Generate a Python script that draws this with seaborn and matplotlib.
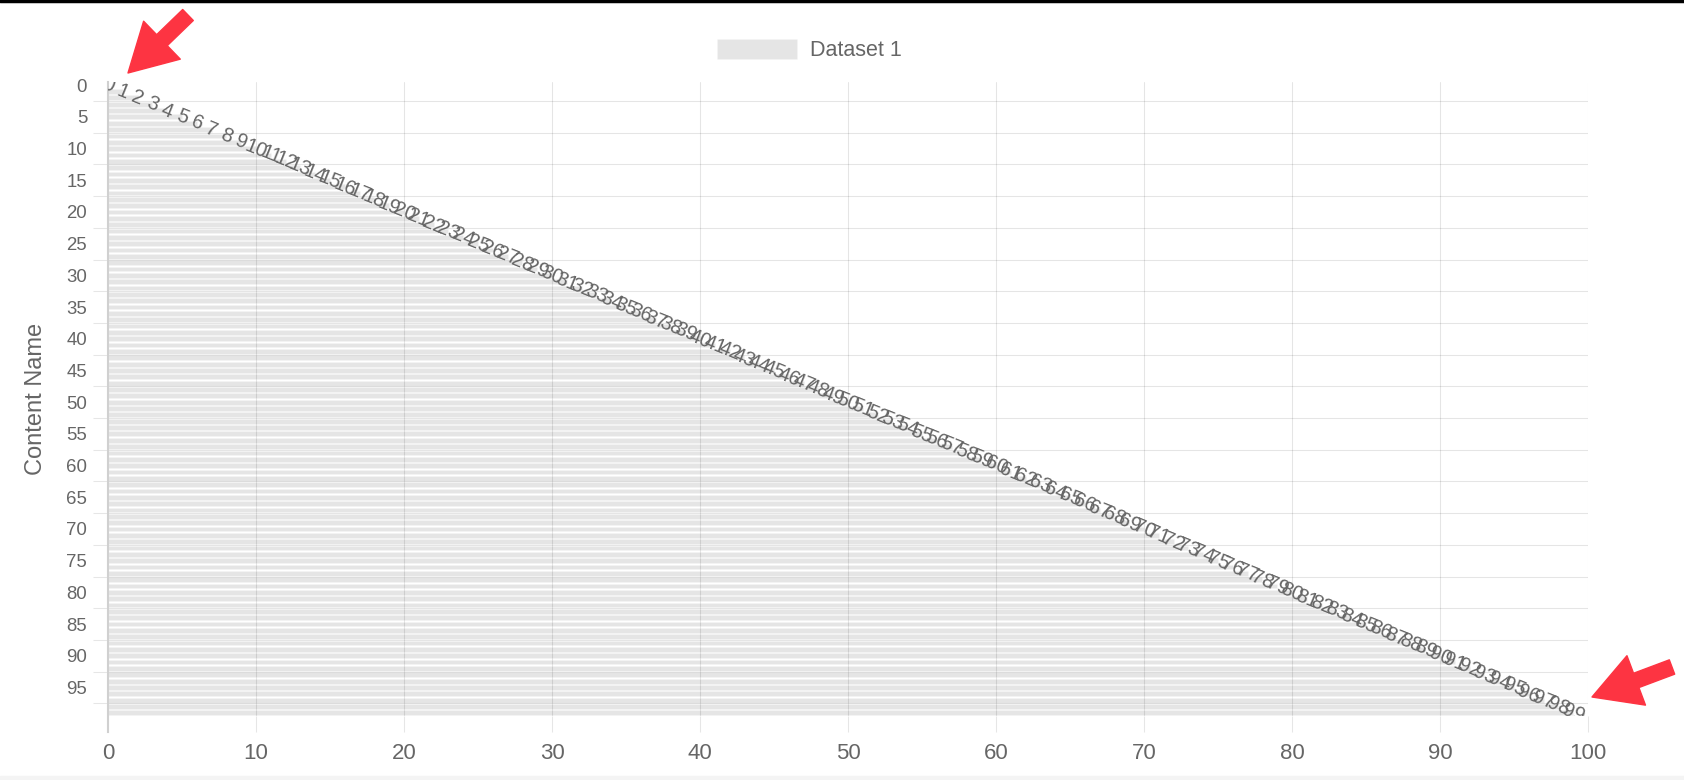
import matplotlib
matplotlib.use("Agg")
import matplotlib.pyplot as plt
import seaborn as sns
import pandas as pd
from matplotlib.lines import Line2D
from matplotlib.patches import Rectangle

# ---------------- data ----------------
content_names = [
    "0", "1", "2", "3", "4", "5", "6", "7", "8", "9",
    "10", "11", "12", "13", "14", "15", "16", "17", "18", "19",
    "20", "21", "22", "23", "24", "25", "26", "27", "28", "29",
    "30", "31", "32", "33", "34", "35", "36", "37", "38", "39",
    "40", "41", "42", "43", "44", "45", "46", "47", "48", "49",
    "50", "51", "52", "53", "54", "55", "56", "57", "58", "59",
    "60", "61", "62", "63", "64", "65", "66", "67", "68", "69",
    "70", "71", "72", "73", "74", "75", "76", "77", "78", "79",
    "80", "81", "82", "83", "84", "85", "86", "87", "88", "89",
    "90", "91", "92", "93", "94", "95", "96", "97", "98", "99",
]
dataset_1 = [
    0, 1, 2, 3, 4, 5, 6, 7, 8, 9,
    10, 11, 12, 13, 14, 15, 16, 17, 18, 19,
    20, 21, 22, 23, 24, 25, 26, 27, 28, 29,
    30, 31, 32, 33, 34, 35, 36, 37, 38, 39,
    40, 41, 42, 43, 44, 45, 46, 47, 48, 49,
    50, 51, 52, 53, 54, 55, 56, 57, 58, 59,
    60, 61, 62, 63, 64, 65, 66, 67, 68, 69,
    70, 71, 72, 73, 74, 75, 76, 77, 78, 79,
    80, 81, 82, 83, 84, 85, 86, 87, 88, 89,
    90, 91, 92, 93, 94, 95, 96, 97, 98, 99,
]
series_label = "Dataset 1"
y_title = "Content Name"
x_ticks = [0, 10, 20, 30, 40, 50, 60, 70, 80, 90, 100]
y_tick_labels = ["0", "5", "10", "15", "20", "25", "30", "35", "40", "45",
                 "50", "55", "60", "65", "70", "75", "80", "85", "90", "95"]

df = pd.DataFrame({"name": content_names, "value": dataset_1})

# ---------------- style ----------------
sns.set_theme(style="white")
plt.rcParams["font.family"] = ["Liberation Sans", "DejaVu Sans"]
TXT = "#666666"
TICK = "#e6e6e6"

W, H = 1684, 780
fig = plt.figure(figsize=(W / 100, H / 100), dpi=100)
ax = fig.add_axes([108 / W, 1 - 716 / H, (1588 - 108) / W, (716 - 82) / H])

sns.barplot(data=df, x="value", y="name", orient="h", order=content_names,
            color="black", alpha=0.1, width=0.75, saturation=1,
            label=series_label, ax=ax, zorder=2)

ax.set_xlim(0, 100)
ax.set_ylim(99.5, -0.5)

# data labels at the end of each bar
for name, v in zip(content_names, dataset_1):
    pos = content_names.index(name)
    ax.text(v, pos, name, ha="center", va="center", rotation=-22,
            rotation_mode="anchor", fontsize=14.5, color=TXT, clip_on=True,
            zorder=4)

# x axis
ax.set_xticks(x_ticks)
ax.set_xticklabels([str(t) for t in x_ticks])
ax.tick_params(axis="x", which="major", length=11.5, width=0.75, color=TICK,
               pad=8, labelsize=16, labelcolor=TXT, bottom=True)
ax.xaxis.grid(True, color="black", alpha=0.1, linewidth=0.75, zorder=0)
ax.set_xlabel("")

# y axis
major_pos = [content_names.index(t) for t in y_tick_labels]
ax.set_yticks(major_pos)
ax.set_yticklabels(y_tick_labels)
ax.set_yticks([p + 2.5 for p in major_pos], minor=True)
ax.tick_params(axis="y", which="major", length=0, pad=15, labelsize=13.4,
               labelcolor=TXT, left=True)
ax.tick_params(axis="y", which="minor", length=11, width=0.75, color=TICK,
               left=True)
ax.yaxis.grid(True, which="minor", color="black", alpha=0.1, linewidth=0.75,
              zorder=0)
ax.yaxis.grid(False, which="major")
ax.set_ylabel(y_title, fontsize=17, color=TXT)
ax.yaxis.label.set_va("center")
ax.yaxis.set_label_coords(-(108 - 36) / (1588 - 108), 0.5, transform=ax.transAxes)
ax.set_axisbelow(True)

for s in ["top", "right", "bottom"]:
    ax.spines[s].set_visible(False)
ax.spines["left"].set_color("#d0d0d0")
ax.spines["left"].set_linewidth(1.5)
ax.spines["left"].set_bounds(99.5 + 16 * 100 / 634, -0.5)

# legend
handles, labels = ax.get_legend_handles_labels()
if ax.get_legend() is not None:
    ax.get_legend().remove()
fig.legend(handles[:1], labels[:1], loc="center left",
           bbox_to_anchor=(717 / W, 1 - 50 / H), frameon=False,
           fontsize=15.5, labelcolor=TXT, handlelength=3.7, handleheight=1.1,
           handletextpad=0.6, borderpad=0, borderaxespad=0)

# screenshot decorations
fig.add_artist(Line2D([0, 1], [1 - 1 / H, 1 - 1 / H], transform=fig.transFigure,
                      color="black", linewidth=2.5))
fig.add_artist(Rectangle((0, 0), 1, 4 / H, transform=fig.transFigure,
                         color="#f4f4f4", zorder=0))

red = "#fd3442"
arrow_style = "simple,head_length=1.7,head_width=1.9,tail_width=0.55"
ax.annotate("", xy=(128, H - 73), xytext=(188, H - 15),
            xycoords="figure pixels", textcoords="figure pixels",
            arrowprops=dict(arrowstyle=arrow_style, mutation_scale=20,
                            color=red, shrinkA=0, shrinkB=0),
            annotation_clip=False)
ax.annotate("", xy=(1592, H - 697), xytext=(1672, H - 667),
            xycoords="figure pixels", textcoords="figure pixels",
            arrowprops=dict(arrowstyle=arrow_style, mutation_scale=20,
                            color=red, shrinkA=0, shrinkB=0),
            annotation_clip=False)

fig.savefig("out.png", dpi=100)
